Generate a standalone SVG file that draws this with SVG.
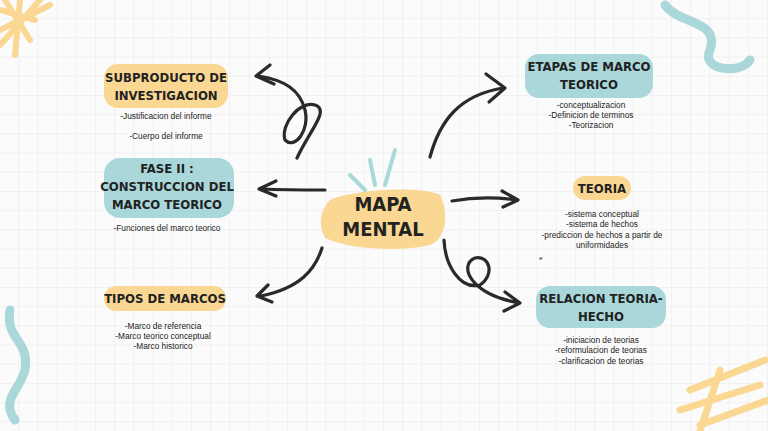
<svg xmlns="http://www.w3.org/2000/svg" width="768" height="431" viewBox="0 0 768 431">
<defs>
<pattern id="grid" width="19.2" height="19.2" patternUnits="userSpaceOnUse"><path d="M19.2 0V19.2H0" fill="none" stroke="#e2e2e2" stroke-width="0.8"/></pattern>
<style>
.t{font-family:"DejaVu Sans Condensed","Liberation Sans",sans-serif;font-weight:bold;fill:#222;text-anchor:middle;font-size:13px}
.s{font-family:"Liberation Sans",sans-serif;fill:#222;text-anchor:middle;font-size:8.3px}
.y{fill:#fad893}.b{fill:#a9d7da}
.c{fill:none;stroke:#2a2a2a;stroke-width:3.2;stroke-linecap:round;stroke-linejoin:round}
</style>
</defs>
<rect width="768" height="431" fill="#fbfbfb"/>
<rect width="768" height="431" fill="url(#grid)"/>
<g fill="none" stroke-linecap="round">
<path d="M0 10 L35 20 M5 0 L30 40 M20 0 L15 55 M0 30 L50 5 M40 0 L0 45" stroke="#fad893" stroke-width="6"/>
<path d="M665 5 C680 25 720 20 710 50 C700 70 740 75 750 60" stroke="#a9d7da" stroke-width="9"/>
<path d="M10 310 C5 340 30 340 25 370 C20 390 0 400 15 420" stroke="#a9d7da" stroke-width="9"/>
<path d="M690 390 L765 360 M680 410 L760 385 M700 425 L768 400 M720 370 L700 431" stroke="#fad893" stroke-width="7"/>
<path d="M350 175 L365 190 M370 160 L375 185 M395 150 L385 185" stroke="#a9d7da" stroke-width="4"/>
</g>
<g id="center">
<path d="M330 200 C350 190 420 185 440 195 C450 215 445 240 430 245 C400 252 350 250 325 238 C318 225 320 210 330 200Z" class="y"/>
<text class="t" x="383" y="211" style="font-size:20px">MAPA</text>
<text class="t" x="383" y="236" style="font-size:20px">MENTAL</text>
</g>
<g id="subproducto">
<rect x="104" y="64" width="124" height="44" rx="14" class="y"/>
<text class="t" x="166" y="82">SUBPRODUCTO DE</text>
<text class="t" x="166" y="100">INVESTIGACION</text>
<text class="s" x="166" y="119">-Justificacion del informe</text>
<text class="s" x="166" y="139">-Cuerpo del informe</text>
</g>
<g id="fase">
<rect x="104" y="158" width="130" height="60" rx="16" class="b"/>
<text class="t" x="167" y="173">FASE II :</text>
<text class="t" x="167" y="191">CONSTRUCCION DEL</text>
<text class="t" x="167" y="209">MARCO TEORICO</text>
<text class="s" x="167" y="231">-Funciones del marco teorico</text>
</g>
<g id="tipos">
<rect x="104" y="286" width="122" height="25" rx="12" class="y"/>
<text class="t" x="165" y="303">TIPOS DE MARCOS</text>
<text class="s" x="163" y="329">-Marco de referencia</text>
<text class="s" x="163" y="339">-Marco teorico conceptual</text>
<text class="s" x="163" y="349">-Marco historico</text>
</g>
<g id="etapas">
<rect x="525" y="54" width="128" height="44" rx="14" class="b"/>
<text class="t" x="589" y="71">ETAPAS DE MARCO</text>
<text class="t" x="589" y="89">TEORICO</text>
<text class="s" x="591" y="108">-conceptualizacion</text>
<text class="s" x="591" y="118">-Definicion de terminos</text>
<text class="s" x="591" y="128">-Teorizacion</text>
</g>
<g id="teoria">
<rect x="573" y="176" width="58" height="24" rx="12" class="y"/>
<text class="t" x="602" y="193">TEORIA</text>
<text class="s" x="602" y="217">-sistema conceptual</text>
<text class="s" x="602" y="227">-sistema de hechos</text>
<text class="s" x="602" y="238">-prediccion de hechos a partir de</text>
<text class="s" x="602" y="248">uniformidades</text>
<text class="s" x="541" y="260" style="font-size:6px">e</text>
</g>
<g id="relacion">
<rect x="536" y="286" width="130" height="42" rx="14" class="b"/>
<text class="t" x="601" y="303">RELACION TEORIA-</text>
<text class="t" x="601" y="321">HECHO</text>
<text class="s" x="601" y="343">-iniciacion de teorias</text>
<text class="s" x="601" y="353">-reformulacion de teorias</text>
<text class="s" x="601" y="364">-clarificacion de teorias</text>
</g>
<g id="connectors">
<path class="c" d="M297 158 C310 130 330 110 315 105 C300 100 280 125 285 140 C295 150 310 130 305 110 C300 90 285 80 258 76 M270 65 L256 76 L274 84"/>
<path class="c" d="M325 190 C305 190 285 190 262 189 M276 181 L259 189 L276 196"/>
<path class="c" d="M322 248 C315 270 300 288 261 296 M268 285 L257 296 L272 302"/>
<path class="c" d="M430 157 C440 120 460 95 503 88 M486 74 L505 88 L489 102"/>
<path class="c" d="M452 201 C475 197 495 197 517 200 M502 191 L518 200 L503 207"/>
<path class="c" d="M444 240 C445 265 460 290 480 285 C495 275 490 255 475 258 C458 265 470 295 520 303 M505 292 L520 303 L504 311"/>
</g>
</svg>
